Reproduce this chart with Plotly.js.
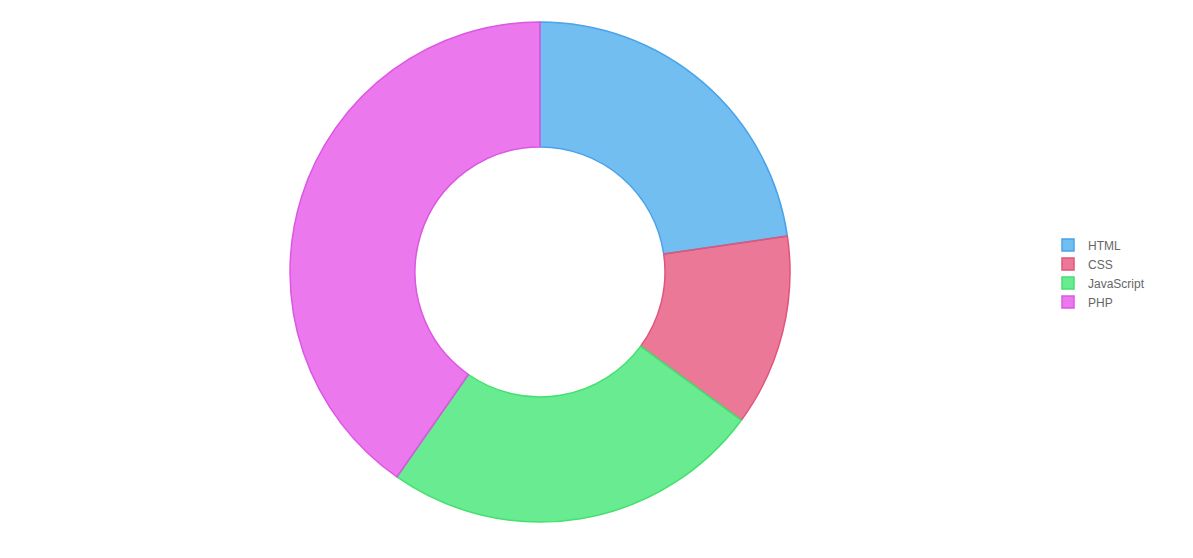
<!DOCTYPE html>
<html>
<head>
<meta charset="utf-8">
<script src="https://cdn.plot.ly/plotly-3.0.1.min.js"></script>
<style>
  html, body { margin: 0; padding: 0; background: #fff; }
  #plot { width: 1193px; height: 558px; }
</style>
</head>
<body>
<div id="plot"></div>
<script>
const languages = ['HTML', 'CSS', 'JavaScript', 'PHP'];
const shares = [22.7, 12.4, 24.6, 40.3];
const fillColors = ['rgba(54,162,235,0.7)', 'rgba(227,62,106,0.7)', 'rgba(40,226,98,0.7)', 'rgba(226,62,230,0.7)'];
const borderColors = ['#4aa3ea', '#df557c', '#45e070', '#dc57e2'];

const trace = {
  type: 'pie',
  labels: languages,
  values: shares,
  hole: 0.5,
  sort: false,
  direction: 'clockwise',
  rotation: 0,
  textinfo: 'none',
  hoverinfo: 'label+percent',
  marker: {
    colors: fillColors,
    line: { color: borderColors, width: 1.5 },
  },
  domain: {
    x: [290 / 1193, 790 / 1193],
    y: [36 / 558, 536 / 558],
  },
};

const layout = {
  width: 1193,
  height: 558,
  margin: { t: 0, b: 0, l: 0, r: 0 },
  paper_bgcolor: '#fff',
  showlegend: true,
  legend: {
    x: 1048 / 1193,
    y: 0.51,
    yanchor: 'middle',
    xanchor: 'left',
    font: { family: 'Liberation Sans, Arial, sans-serif', size: 12, color: '#666' },
  },
};

const config = {
  displayModeBar: false,
};

Plotly.newPlot('plot', [trace], layout, config);
</script>
</body>
</html>
